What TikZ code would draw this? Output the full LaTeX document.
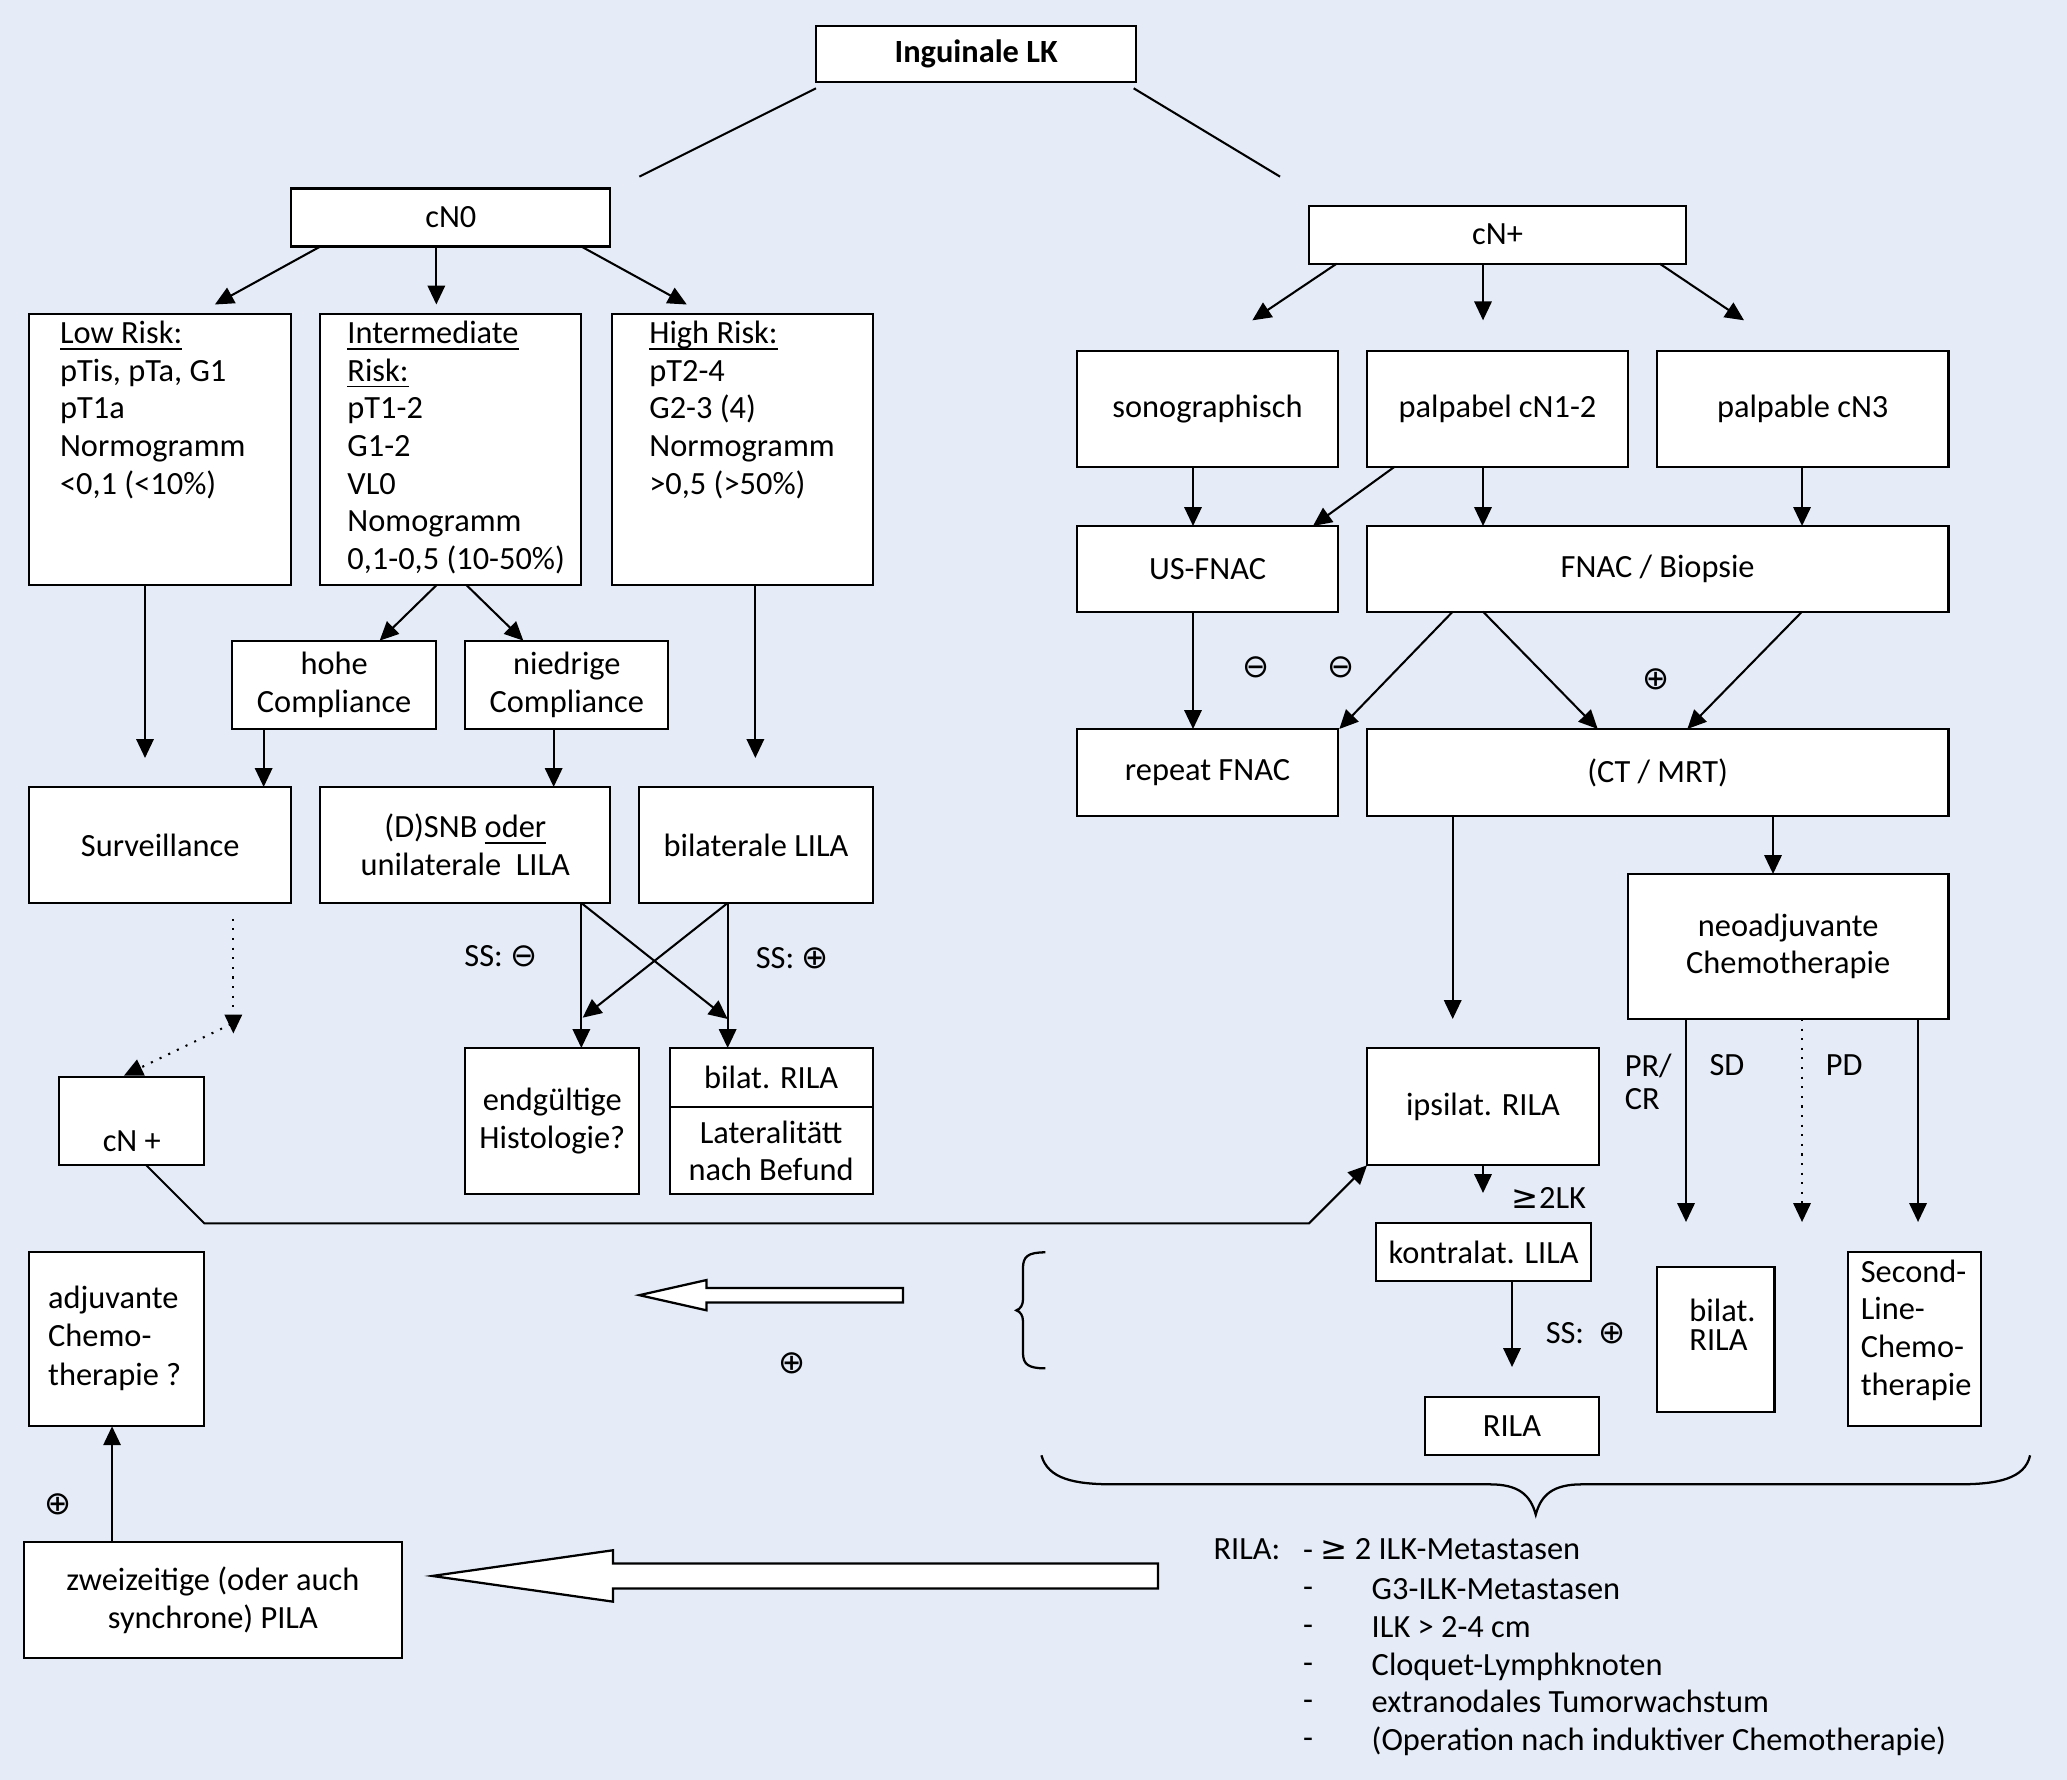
\documentclass[tikz,border=0pt]{standalone}
\usepackage{fontspec}
\setmainfont{Carlito}
\newfontfamily\symf{DejaVu Sans}
\usetikzlibrary{arrows.meta,calc}
\definecolor{bgblue}{RGB}{229,236,247}
\newcommand\fsz{\fontsize{8.6pt}{10pt}\selectfont}
\newcommand\ulx[1]{\underline{\raisebox{0pt}[\height][0pt]{#1}}}
\newcommand\bx[6]{\node[box, minimum width={(#4-#2)*0.35pt}, minimum height={(#5-#3)*0.35pt}] (#1) at ({(#2+#4)/2},{(#3+#5)/2}) {#6};}
\begin{document}
\begin{tikzpicture}[x=0.35pt,y=-0.35pt,
  every node/.style={font=\fsz},
  box/.style={draw, fill=white, line width=0.6pt, inner sep=0pt, outer sep=0pt, align=center},
  arr/.style={line width=0.55pt, -{Triangle[length=5pt,width=4.6pt]}},
  ln/.style={line width=0.55pt},
  lbl/.style={inner sep=0pt, align=left, anchor=north west},
  brc/.style={line width=0.6pt}]
\fill[bgblue] (0,0) rectangle (1568,1350);
\useasboundingbox (0,0) rectangle (1568,1350);

% ---------- boxes left ----------
\bx{ing}{619}{20}{862}{62}{\bfseries Inguinale LK}
\bx{cn0}{221}{143}{463}{187}{cN0}
\bx{cnp}{993}{156}{1279}{200}{cN+}
\bx{low}{22}{238}{221}{444}{}
\bx{mid}{243}{238}{441}{444}{}
\bx{high}{464}{238}{662}{444}{}
\node[lbl] (lowt) at (45,240) {\strut\ulx{Low Risk:}\\pTis, pTa, G1\\pT1a\\Normogramm\\<0,1 (<10\%)};
\node[lbl] (midt) at (263,240) {\strut\ulx{Intermediate}\\\ulx{Risk:}\\pT1-2\\G1-2\\VL0\\Nomogramm\\0,1-0,5 (10-50\%)};
\node[lbl] (hight) at (492,240) {\strut\ulx{High Risk:}\\pT2-4\\G2-3 (4)\\Normogramm\\>0,5 (>50\%)};
\bx{hohe}{176}{486}{331}{553}{hohe\\Compliance}
\bx{nied}{353}{486}{507}{553}{niedrige\\Compliance}
\bx{surv}{22}{597}{221}{685}{Surveillance}
\bx{dsnb}{243}{597}{463}{685}{(D)SNB \ulx{oder}\\unilaterale\ \ LILA}
\bx{bilila}{485}{597}{662}{685}{bilaterale LILA}
\bx{endg}{353}{795}{485}{906}{endgültige\\Histologie?}
\bx{bril}{508}{795}{662}{840}{bilat. RILA}
\bx{later}{508}{840}{662}{906}{Lateralitätt\\nach Befund}
\bx{cnx}{45}{817}{155}{884}{}
\node (cnxt) at (100,866) {cN +};
\bx{adj}{22}{950}{155}{1082}{}
\node[lbl] (adjt) at (36,972) {\strut adjuvante\\Chemo-\\[0.5pt]therapie ?};
\bx{pila}{18}{1170}{305}{1258}{zweizeitige (oder auch\\synchrone) PILA}

% ---------- boxes right ----------
\bx{sono}{817}{266}{1015}{354}{sonographisch}
\bx{palp}{1037}{266}{1235}{354}{palpabel cN1-2}
\bx{palpt}{1257}{266}{1478}{354}{palpable cN3}
\bx{usf}{817}{399}{1015}{464}{US-FNAC}
\bx{fnac}{1037}{399}{1478}{464}{FNAC / Biopsie}
\bx{rep}{817}{553}{1015}{619}{repeat FNAC}
\bx{ct}{1037}{553}{1478}{619}{(CT / MRT)}
\bx{neo}{1235}{663}{1478}{773}{neoadjuvante\\Chemotherapie}
\bx{ips}{1037}{795}{1213}{884}{ipsilat. RILA}
\bx{kon}{1044}{928}{1207}{972}{kontralat. LILA}
\bx{rila}{1081}{1060}{1213}{1104}{RILA}
\bx{brr}{1257}{961}{1346}{1071}{}
\node[lbl] (brrt) at (1281,982) {\strut bilat.\\[-2.3pt]RILA};
\bx{sec}{1402}{950}{1503}{1082}{}
\node[lbl] (sect) at (1411,952) {\strut Second-\\Line-\\Chemo-\\therapie};

% ---------- labels ----------
\node (ss1) at (380,725) {SS:\ {\symf ⊖}};
\node (ss2) at (601,727) {SS:\ {\symf ⊕}};
\node (m1) at (953,506) {\symf ⊖};
\node (m2) at (1017,506) {\symf ⊖};
\node (p1) at (1256,515) {\symf ⊕};
\node[lbl] (prcr) at (1232,796) {\strut PR/\\[-1.3pt]CR};
\node (sd) at (1310,808) {SD};
\node (pd) at (1399,808) {PD};
\node (lk2) at (1175,909) {{\symf ≥}2LK};
\node (ss3) at (1203,1011) {SS:\ \ {\symf ⊕}};
\node (p2) at (601,1034) {\symf ⊕};
\node (p3) at (44,1141) {\symf ⊕};

% RILA list
\node[anchor=base west, inner sep=0pt] (rl) at (920,1183) {RILA:};
\node[lbl] (rdash) at (988,1163) {\strut-\\-\\-\\-\\-\\-};
\node[anchor=base west, inner sep=0pt] (r1) at (1001,1183) {{\symf ≥} 2 ILK-Metastasen};
\node[lbl] (rrest) at (1040,1193) {\strut G3-ILK-Metastasen\\ILK > 2-4 cm\\Cloquet-Lymphknoten\\extranodales Tumorwachstum\\(Operation nach induktiver Chemotherapie)};

% ---------- connectors left ----------
\coordinate (cn0top) at (485,134);
\coordinate (cnptop) at (971,134);
\draw[ln] ($(ing.south west)+(0,5)$) -- (cn0top);
\draw[ln] ($(ing.south east)+(-2,5)$) -- (cnptop);
\draw[arr] ($(cn0.south west)+(22,0)$) -- ($(low.north west)+(141,-7)$);
\draw[arr] ($(cn0.south west)+(110,0)$) -- ($(mid.north west)+(88,-7)$);
\draw[arr] ($(cn0.south west)+(220,0)$) -- ($(high.north west)+(57,-7)$);
\draw[arr] ($(low.south west)+(88,0)$) -- ($(surv.north west)+(88,-22)$);
\draw[arr] ($(high.south west)+(109,0)$) -- ($(bilila.north west)+(88,-22)$);
\draw[arr] ($(mid.south west)+(88,0)$) -- ($(hohe.north west)+(112,0)$);
\draw[arr] ($(mid.south west)+(111,0)$) -- ($(nied.north west)+(44,0)$);
\draw[arr] ($(hohe.south west)+(24,0)$) -- ($(surv.north west)+(178,0)$);
\draw[arr] ($(nied.south west)+(67,0)$) -- ($(dsnb.north west)+(177,0)$);
\draw[arr] ($(dsnb.south west)+(198,0)$) -- ($(endg.north west)+(88,0)$);
\draw[arr] ($(dsnb.south west)+(198,0)$) -- ($(bril.north west)+(44,-22)$);
\draw[arr] ($(bilila.south west)+(67,0)$) -- ($(bril.north west)+(44,0)$);
\draw[arr] ($(bilila.south west)+(67,0)$) -- ($(endg.north west)+(89,-23)$);
\coordinate (d1e) at (177,784);
\coordinate (d2s) at (175,777);
\draw[arr,dotted] ($(surv.south west)+(155,12)$) -- (d1e);
\draw[arr,dotted] (d2s) -- ($(cnx.north west)+(49,-1)$);
\coordinate (b1) at (155,928);
\coordinate (b2) at (993,928);
\draw[arr] ($(cnx.south west)+(66,0)$) -- (b1) -- (b2) -- (ips.south west);
\draw[arr] ($(pila.north west)+(67,0)$) -- ($(adj.south west)+(63,0)$);

% ---------- connectors right ----------
\draw[arr] ($(cnp.south west)+(21,0)$) -- ($(sono.north west)+(133,-23)$);
\draw[arr] ($(cnp.south west)+(132,0)$) -- ($(palp.north west)+(88,-23)$);
\draw[arr] ($(cnp.south west)+(266,0)$) -- ($(palpt.north west)+(66,-23)$);
\draw[arr] ($(sono.south west)+(88,0)$) -- ($(usf.north west)+(88,0)$);
\draw[arr] ($(palp.south west)+(21,0)$) -- ($(usf.north west)+(179,0)$);
\draw[arr] ($(palp.south west)+(88,0)$) -- ($(fnac.north west)+(88,0)$);
\draw[arr] ($(palpt.south west)+(110,0)$) -- ($(fnac.north west)+(330,0)$);
\draw[arr] ($(usf.south west)+(88,0)$) -- ($(rep.north west)+(88,0)$);
\draw[arr] ($(fnac.south west)+(65,0)$) -- ($(rep.north east)+(1,0)$);
\draw[arr] ($(fnac.south west)+(88,0)$) -- ($(ct.north west)+(175,0)$);
\draw[arr] ($(fnac.south west)+(330,0)$) -- ($(ct.north west)+(243,0)$);
\draw[arr] ($(ct.south west)+(65,0)$) -- ($(ips.north west)+(65,-22)$);
\draw[arr] ($(ct.south west)+(308,0)$) -- ($(neo.north west)+(110,0)$);
\draw[arr] ($(neo.south west)+(44,0)$) -- ($(brr.north west)+(22,-34)$);
\draw[arr,dotted] ($(neo.south west)+(132,0)$) -- ($(brr.north west)+(110,-34)$);
\draw[arr] ($(neo.south west)+(220,0)$) -- ($(sec.north west)+(53,-23)$);
\draw[arr] ($(ips.south west)+(88,0)$) -- ($(kon.north west)+(81,-23)$);
\draw[arr] ($(kon.south west)+(103,0)$) -- ($(rila.north west)+(66,-23)$);

% ---------- block arrows ----------
\draw[line width=0.6pt, fill=white] (685,977) -- (536,977) -- (536,971) -- (485,982.5) -- (536,994) -- (536,988) -- (685,988) -- cycle;
\draw[line width=0.6pt, fill=white] (878.5,1186) -- (465,1186) -- (465,1176) -- (328,1195.5) -- (465,1215) -- (465,1205) -- (878.5,1205) -- cycle;

% ---------- braces ----------
\draw[brc] (793,950) .. controls (780,950) and (776,953) .. (776,962) -- (776,986) .. controls (776,990) and (774,993) .. (771,994) .. controls (774,995) and (776,998) .. (776,1002) -- (776,1026) .. controls (776,1035) and (780,1038) .. (793,1038);
\draw[brc] (790,1104) .. controls (795,1122) and (815,1126) .. (845,1126) -- (1130,1126) .. controls (1152,1126) and (1161,1134) .. (1165,1149) .. controls (1169,1134) and (1178,1126) .. (1200,1126) -- (1485,1126) .. controls (1515,1126) and (1536,1122) .. (1540,1104);
\end{tikzpicture}
\end{document}
